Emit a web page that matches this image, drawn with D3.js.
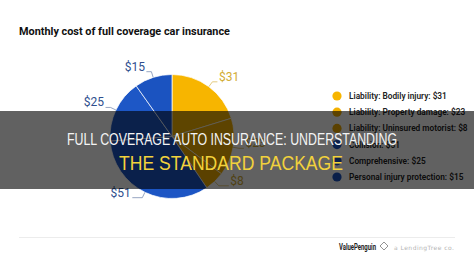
<!DOCTYPE html>
<html>
<head>
<meta charset="utf-8">
<script src="https://cdn.jsdelivr.net/npm/d3@7"></script>
<style>
  body { margin: 0; background: #fff; }
  svg { display: block; }
</style>
</head>
<body>
<div id="chart"></div>
<script>
(function () {

  // data
  const categories = [
    "Liability: Bodily injury",
    "Liability: Property damage",
    "Liability: Uninsured motorist",
    "Collision",
    "Comprehensive",
    "Personal injury protection"
  ];
  const costs = [31, 23, 8, 51, 25, 15];
  const sliceColors = ["#f7b500", "#f3b000", "#eeab00", "#1c55c4", "#1d57c6", "#1b53c0"];
  const chartTitle = "Monthly cost of full coverage car insurance";
  const bannerLines = ["FULL COVERAGE AUTO INSURANCE: UNDERSTANDING", "THE STANDARD PACKAGE"];

  const W = 474, H = 271;
  const cx = 172, cy = 136.5, r = 62;

  const svg = d3.select("#chart")
    .append("svg")
    .attr("width", W)
    .attr("height", H);

  svg.append("rect").attr("width", W).attr("height", H).attr("fill", "#fff");

  // title
  svg.append("text")
    .attr("x", 19)
    .attr("y", 35)
    .attr("font-family", "Roboto, 'Liberation Sans', sans-serif")
    .attr("font-weight", 700)
    .attr("font-size", 11)
    .attr("textLength", 211)
    .attr("lengthAdjust", "spacingAndGlyphs")
    .attr("fill", "#111")
    .text(chartTitle);

  // pie
  const pie = d3.pie().sort(null).value(d => d);
  const arcs = pie(costs);
  const arc = d3.arc().innerRadius(0).outerRadius(r);

  const g = svg.append("g").attr("transform", `translate(${cx},${cy})`);

  g.selectAll("path")
    .data(arcs)
    .join("path")
    .attr("d", arc)
    .attr("fill", (d, i) => sliceColors[i])
    .attr("stroke", "#fff")
    .attr("stroke-width", 0.7);

  // labels with short leader lines
  const labelColor = i => i < 3 ? "#d2ac34" : "#2f4f8e";
  const ptAt = (a, rad) => [Math.sin(a) * rad, -Math.cos(a) * rad];

  arcs.forEach((d, i) => {
    const a = (d.startAngle + d.endAngle) / 2;
    const p0 = ptAt(a, r);
    const p1 = ptAt(a, r + 6);
    const right = p1[0] > 0;
    const low = p1[1] > r * 0.7;
    const p2 = [p1[0] + (right ? 5 : -5) * (low ? 2 : 1), p1[1]];
    g.append("polyline")
      .attr("points", [p0, p1, p2].map(p => p.join(",")).join(" "))
      .attr("fill", "none")
      .attr("stroke", i < 3 ? "#d9b54a" : "#6a7fa8")
      .attr("stroke-width", 0.7);
    g.append("text")
      .attr("x", p2[0] + (right ? 1.5 : -1.5))
      .attr("y", p2[1] - 1)
      .attr("text-anchor", right ? "start" : "end")
      .attr("font-family", "Roboto, 'Liberation Sans', sans-serif")
      .attr("font-size", 12)
      .attr("fill", labelColor(i))
      .text("$" + costs[i]);
  });

  // legend
  const legend = svg.append("g");
  const ly = d3.scalePoint().domain(categories).range([96, 177]);
  categories.forEach((c, i) => {
    legend.append("circle")
      .attr("cx", 337)
      .attr("cy", ly(c))
      .attr("r", 4.6)
      .attr("fill", sliceColors[i]);
    legend.append("text")
      .attr("x", 349)
      .attr("y", ly(c) + 3)
      .attr("font-family", "Roboto, 'Liberation Sans', sans-serif")
      .attr("font-weight", 600)
      .attr("font-size", 8.3)
      .attr("fill", "#222")
      .text(c + ": $" + costs[i]);
  });

  // footer
  svg.append("line")
    .attr("x1", 19).attr("x2", 455)
    .attr("y1", 237.5).attr("y2", 237.5)
    .attr("stroke", "#ececec")
    .attr("stroke-width", 1);

  svg.append("text")
    .attr("x", 339)
    .attr("y", 250)
    .attr("font-family", "Roboto, 'Liberation Sans', sans-serif")
    .attr("font-weight", 700)
    .attr("font-size", 8.5)
    .attr("textLength", 37)
    .attr("lengthAdjust", "spacingAndGlyphs")
    .attr("fill", "#222")
    .text("ValuePenguin");

  svg.append("path")
    .attr("d", "M384,242 l4,4 l-4,4 l-4,-4 z")
    .attr("fill", "none")
    .attr("stroke", "#888")
    .attr("stroke-width", 0.9);

  svg.append("text")
    .attr("x", 394)
    .attr("y", 250)
    .attr("font-family", "'DejaVu Sans', sans-serif")
    .attr("font-size", 6)
    .attr("fill", "#b5b5b5")
    .attr("textLength", 60)
    .attr("lengthAdjust", "spacing")
    .text("a LendingTree co.");

  // dark banner over the chart
  svg.append("rect")
    .attr("x", 0)
    .attr("y", 111)
    .attr("width", W)
    .attr("height", 78)
    .attr("fill", "#000")
    .attr("opacity", 0.62);

  svg.append("text")
    .attr("x", 232)
    .attr("y", 145)
    .attr("text-anchor", "middle")
    .attr("font-family", "'Liberation Sans', Arial, sans-serif")
    .attr("font-size", 16)
    .attr("textLength", 330)
    .attr("lengthAdjust", "spacingAndGlyphs")
    .attr("fill", "#f4f4f4")
    .text(bannerLines[0]);

  svg.append("text")
    .attr("x", 231)
    .attr("y", 169.5)
    .attr("text-anchor", "middle")
    .attr("font-family", "'Liberation Sans', Arial, sans-serif")
    .attr("font-size", 20)
    .attr("textLength", 224)
    .attr("lengthAdjust", "spacingAndGlyphs")
    .attr("fill", "#f2d23c")
    .text(bannerLines[1]);

})();
</script>
</body>
</html>
